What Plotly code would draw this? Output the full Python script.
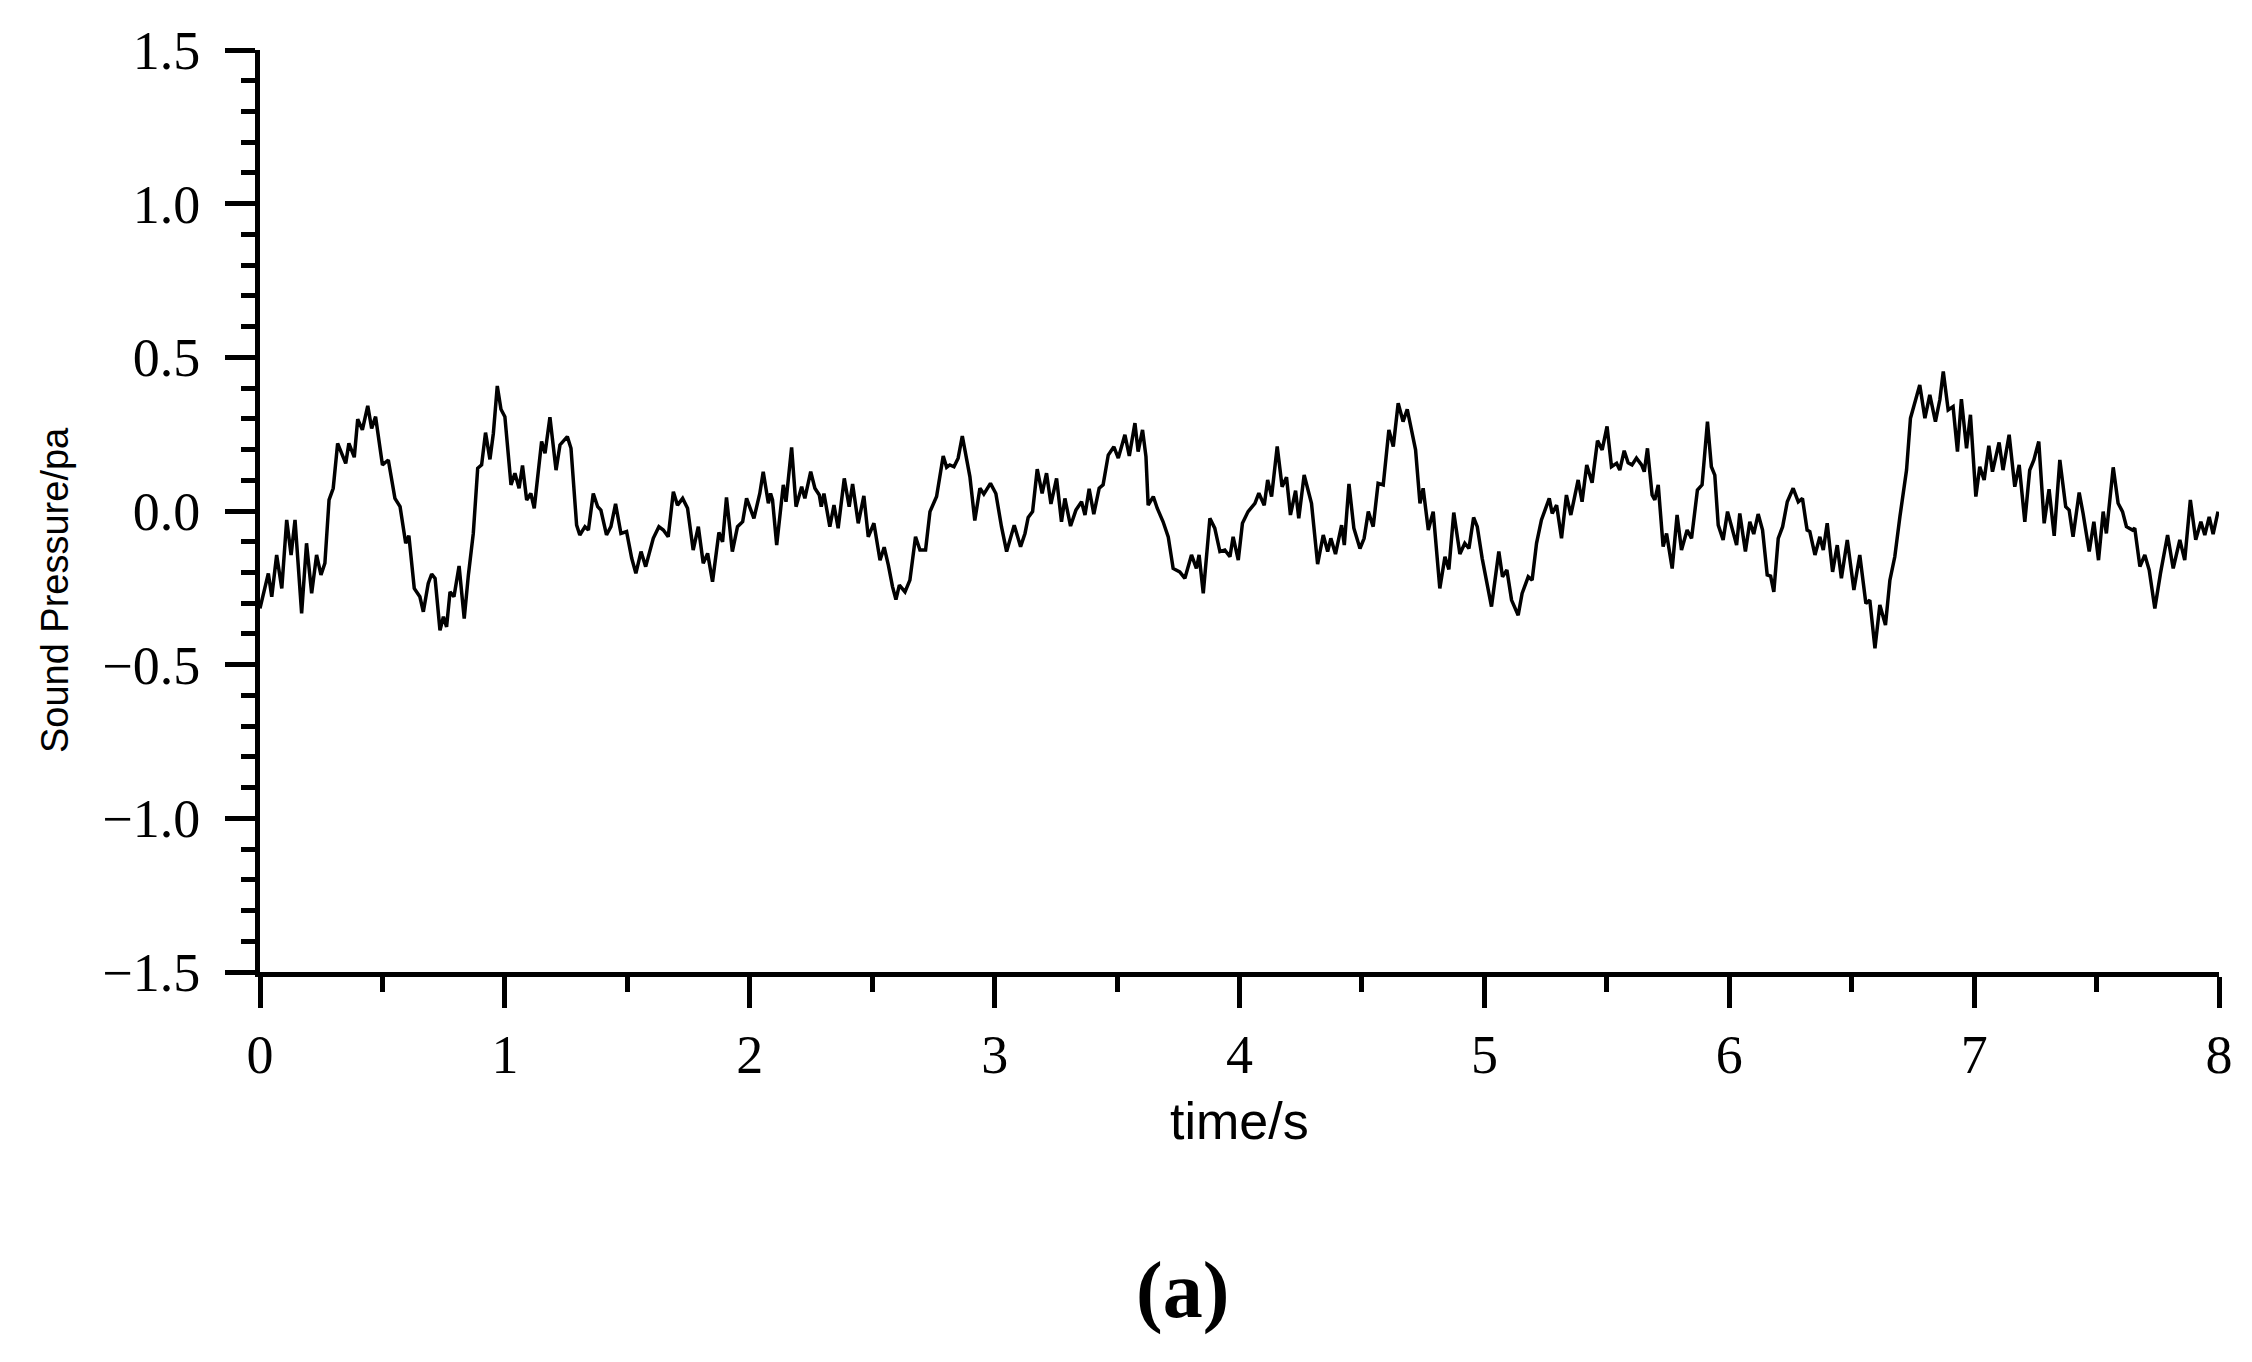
import plotly.graph_objects as go

# sound pressure trace (time in s, pressure in pa)
time_s = [
    0.000, 0.034, 0.048, 0.068, 0.089, 0.109, 0.127, 0.143, 0.170, 0.190,
    0.211, 0.231, 0.249, 0.265, 0.282, 0.299, 0.317, 0.350, 0.363, 0.385,
    0.399, 0.418, 0.440, 0.456, 0.472, 0.500, 0.524, 0.551, 0.572, 0.595,
    0.608, 0.630, 0.653, 0.667, 0.687, 0.701, 0.715, 0.735, 0.749, 0.762,
    0.776, 0.792, 0.813, 0.834, 0.851, 0.871, 0.889, 0.905, 0.921, 0.939,
    0.953, 0.969, 0.984, 1.000, 1.025, 1.041, 1.058, 1.072, 1.089, 1.106,
    1.120, 1.150, 1.164, 1.184, 1.209, 1.225, 1.255, 1.270, 1.293, 1.306,
    1.327, 1.341, 1.361, 1.379, 1.392, 1.415, 1.433, 1.452, 1.474, 1.497,
    1.518, 1.535, 1.556, 1.575, 1.606, 1.629, 1.647, 1.667, 1.688, 1.705,
    1.726, 1.746, 1.769, 1.790, 1.810, 1.828, 1.848, 1.874, 1.889, 1.905,
    1.929, 1.950, 1.971, 1.987, 2.017, 2.041,
    2.055, 2.076, 2.085, 2.093, 2.110, 2.126, 2.137, 2.148, 2.171, 2.189,
    2.212, 2.225, 2.249, 2.266, 2.284, 2.292, 2.303, 2.327, 2.344, 2.361,
    2.386, 2.406, 2.420, 2.443, 2.466, 2.484, 2.507, 2.532, 2.549, 2.566,
    2.583, 2.597, 2.611, 2.634, 2.654, 2.677, 2.695, 2.718, 2.736, 2.763,
    2.790, 2.804, 2.817, 2.834, 2.851, 2.868, 2.899, 2.919, 2.940, 2.956,
    2.983, 3.005, 3.028, 3.049, 3.080, 3.106, 3.124, 3.137, 3.155, 3.174,
    3.194, 3.212, 3.230, 3.253, 3.273, 3.287, 3.310, 3.332, 3.355, 3.369,
    3.386, 3.405, 3.427, 3.443, 3.464, 3.487, 3.505, 3.532, 3.550, 3.573,
    3.586, 3.604, 3.618, 3.627, 3.648, 3.664, 3.688, 3.709, 3.729, 3.756,
    3.777, 3.804, 3.824, 3.835, 3.852, 3.879, 3.899, 3.920, 3.940, 3.961,
    3.974, 3.995, 4.012, 4.035, 4.063,
    4.079, 4.101, 4.115, 4.131, 4.154, 4.174, 4.192, 4.208, 4.229, 4.242,
    4.264, 4.294, 4.319, 4.342, 4.360, 4.373, 4.392, 4.417, 4.428, 4.447,
    4.467, 4.492, 4.509, 4.526, 4.546, 4.566, 4.587, 4.610, 4.628, 4.648,
    4.668, 4.685, 4.719, 4.737, 4.750, 4.771, 4.791, 4.818, 4.839, 4.855,
    4.875, 4.900, 4.920, 4.937, 4.956, 4.971, 4.991, 5.029, 5.059, 5.074,
    5.092, 5.111, 5.138, 5.154, 5.179, 5.195, 5.213, 5.233, 5.265, 5.277,
    5.295, 5.315, 5.335, 5.353, 5.383, 5.399, 5.418, 5.440, 5.462, 5.481,
    5.501, 5.519, 5.540, 5.553, 5.571, 5.587, 5.603, 5.621, 5.642, 5.653,
    5.666, 5.685, 5.696, 5.710, 5.730, 5.744, 5.767, 5.787, 5.805, 5.828,
    5.846, 5.870, 5.889, 5.911, 5.927, 5.941, 5.955, 5.975, 5.993, 6.012,
    6.030, 6.043, 6.066, 6.084,
    6.100, 6.118, 6.136, 6.155, 6.169, 6.182, 6.200, 6.218, 6.237, 6.261,
    6.282, 6.299, 6.318, 6.329, 6.350, 6.370, 6.384, 6.400, 6.422, 6.441,
    6.458, 6.482, 6.509, 6.533, 6.558, 6.574, 6.595, 6.615, 6.638, 6.656,
    6.676, 6.697, 6.724, 6.740, 6.758, 6.778, 6.799, 6.819, 6.842, 6.860,
    6.874, 6.894, 6.914, 6.932, 6.948, 6.969, 6.985, 7.007, 7.023, 7.041,
    7.060, 7.075, 7.102, 7.118, 7.143, 7.166, 7.184, 7.207, 7.227, 7.244,
    7.264, 7.286, 7.306, 7.327, 7.350, 7.374, 7.388, 7.404, 7.429, 7.445,
    7.470, 7.489, 7.508, 7.527, 7.540, 7.568, 7.588, 7.606, 7.622, 7.647,
    7.656, 7.677, 7.697, 7.715, 7.738, 7.761, 7.790, 7.813, 7.840, 7.860,
    7.883, 7.905, 7.926, 7.942, 7.960, 7.976, 7.996,
]

pressure_pa = [
    -0.317, -0.203, -0.279, -0.143, -0.252, -0.029, -0.143, -0.029, -0.333, -0.105,
    -0.268, -0.143, -0.208, -0.170, 0.036, 0.074, 0.220, 0.155, 0.220, 0.175,
    0.299, 0.264, 0.342, 0.269, 0.307, 0.150, 0.166, 0.041, 0.014, -0.105,
    -0.080, -0.252, -0.279, -0.328, -0.236, -0.205, -0.219, -0.388, -0.344, -0.377,
    -0.263, -0.279, -0.179, -0.350, -0.208, -0.073, 0.139, 0.150, 0.255, 0.168,
    0.253, 0.407, 0.331, 0.307, 0.085, 0.123, 0.074, 0.148, 0.036, 0.057,
    0.009, 0.226, 0.188, 0.305, 0.133, 0.215, 0.242, 0.204, -0.046, -0.078,
    -0.051, -0.062, 0.057, 0.014, 0.003, -0.078, -0.051, 0.023, -0.073, -0.067,
    -0.154, -0.203, -0.132, -0.181, -0.089, -0.051, -0.062, -0.084, 0.063, 0.019,
    0.041, 0.009, -0.127, -0.051, -0.170, -0.138, -0.230, -0.070, -0.100, 0.044,
    -0.132, -0.051, -0.035, 0.041, -0.024, 0.057,
    0.128, 0.025, 0.057, 0.036, -0.111, 0.003, 0.085, 0.030, 0.207, 0.014,
    0.079, 0.041, 0.128, 0.074, 0.052, 0.014, 0.057, -0.051, 0.019, -0.056,
    0.106, 0.014, 0.088, -0.040, 0.049, -0.084, -0.040, -0.160, -0.118, -0.176,
    -0.246, -0.288, -0.241, -0.263, -0.225, -0.084, -0.127, -0.127, -0.002, 0.047,
    0.179, 0.142, 0.150, 0.144, 0.172, 0.244, 0.112, -0.031, 0.074, 0.055,
    0.090, 0.057, -0.051, -0.132, -0.046, -0.116, -0.073, -0.021, -0.002, 0.136,
    0.057, 0.123, 0.023, 0.106, -0.035, 0.041, -0.049, 0.003, 0.030, -0.013,
    0.072, -0.010, 0.074, 0.085, 0.182, 0.209, 0.172, 0.248, 0.179, 0.286,
    0.193, 0.264, 0.177, 0.019, 0.047, 0.009, -0.035, -0.084, -0.187, -0.198,
    -0.219, -0.143, -0.187, -0.143, -0.268, -0.024, -0.056, -0.132, -0.127, -0.149,
    -0.084, -0.160, -0.040, -0.002, 0.025,
    0.058, 0.019, 0.101, 0.047, 0.210, 0.079, 0.110, -0.013, 0.066, -0.024,
    0.117, 0.025, -0.173, -0.078, -0.132, -0.089, -0.140, -0.046, -0.111, 0.088,
    -0.056, -0.122, -0.089, -0.002, -0.051, 0.090, 0.085, 0.264, 0.210, 0.351,
    0.291, 0.331, 0.199, 0.025, 0.074, -0.062, -0.002, -0.252, -0.149, -0.190,
    -0.005, -0.140, -0.105, -0.122, -0.021, -0.051, -0.154, -0.311, -0.132, -0.214,
    -0.192, -0.290, -0.339, -0.268, -0.214, -0.225, -0.105, -0.029, 0.041, -0.008,
    0.019, -0.089, 0.052, -0.013, 0.101, 0.030, 0.150, 0.092, 0.229, 0.199,
    0.275, 0.144, 0.155, 0.133, 0.196, 0.157, 0.150, 0.172, 0.150, 0.128,
    0.204, 0.052, 0.036, 0.085, -0.116, -0.073, -0.187, -0.013, -0.127, -0.062,
    -0.089, 0.068, 0.085, 0.291, 0.144, 0.117, -0.046, -0.094, -0.002, -0.062,
    -0.111, -0.008, -0.132, -0.035,
    -0.075, -0.010, -0.062, -0.208, -0.212, -0.263, -0.089, -0.051, 0.030, 0.074,
    0.030, 0.041, -0.062, -0.067, -0.143, -0.084, -0.127, -0.040, -0.198, -0.111,
    -0.219, -0.094, -0.257, -0.143, -0.301, -0.290, -0.447, -0.306, -0.371, -0.225,
    -0.149, -0.018, 0.133, 0.302, 0.351, 0.410, 0.302, 0.378, 0.291, 0.362,
    0.454, 0.329, 0.340, 0.193, 0.364, 0.204, 0.313, 0.047, 0.144, 0.101,
    0.212, 0.128, 0.223, 0.133, 0.248, 0.079, 0.150, -0.035, 0.133, 0.166,
    0.226, -0.040, 0.071, -0.081, 0.166, 0.014, 0.003, -0.084, 0.060, -0.008,
    -0.132, -0.035, -0.160, -0.002, -0.073, 0.142, 0.025, -0.002, -0.051, -0.062,
    -0.056, -0.181, -0.143, -0.192, -0.317, -0.203, -0.078, -0.187, -0.094, -0.160,
    0.036, -0.094, -0.035, -0.078, -0.019, -0.075, -0.002,
]

tick_font = dict(family="Liberation Serif", size=54, color="black")

fig = go.Figure(
    go.Scatter(
        x=time_s,
        y=pressure_pa,
        mode="lines",
        line=dict(color="black", width=3.5),
        showlegend=False,
    )
)

# the page body adds an 8 px offset, so margins are shifted to compensate
fig.update_layout(
    width=2252,
    height=1362,
    margin=dict(l=252, r=41, t=42, b=398),
    paper_bgcolor="white",
    plot_bgcolor="white",
    showlegend=False,
)

fig.update_xaxes(
    range=[0, 8],
    tick0=0,
    dtick=1,
    ticks="outside",
    ticklen=31,
    tickwidth=5,
    tickcolor="black",
    minor=dict(dtick=0.5, ticks="outside", ticklen=15, tickwidth=5, tickcolor="black"),
    showline=True,
    linewidth=5,
    linecolor="black",
    showgrid=False,
    zeroline=False,
    tickfont=tick_font,
)

fig.update_yaxes(
    range=[-1.5, 1.5],
    tick0=0,
    dtick=0.5,
    tickformat=".1f",
    ticks="outside",
    ticklen=30,
    tickwidth=5,
    tickcolor="black",
    minor=dict(dtick=0.1, ticks="outside", ticklen=14, tickwidth=5, tickcolor="black"),
    showline=True,
    linewidth=5,
    linecolor="black",
    showgrid=False,
    zeroline=False,
    tickfont=tick_font,
    ticklabelstandoff=14,
)

fig.add_annotation(
    text="time/s",
    xref="paper", yref="paper",
    x=0.5, y=-0.1616,
    xanchor="center", yanchor="middle",
    showarrow=False,
    font=dict(family="Liberation Sans", size=52, color="black"),
)

fig.add_annotation(
    text="Sound Pressure/pa",
    xref="paper", yref="paper",
    x=-0.1046, y=0.4143,
    xanchor="center", yanchor="middle",
    textangle=-90,
    showarrow=False,
    font=dict(family="Liberation Sans", size=38, color="black"),
)

fig.add_annotation(
    text="<b>(a)</b>",
    xref="paper", yref="paper",
    x=0.4707, y=-0.345,
    xanchor="center", yanchor="middle",
    showarrow=False,
    font=dict(family="Liberation Serif", size=80, color="black"),
)

fig.write_html("out.html")
